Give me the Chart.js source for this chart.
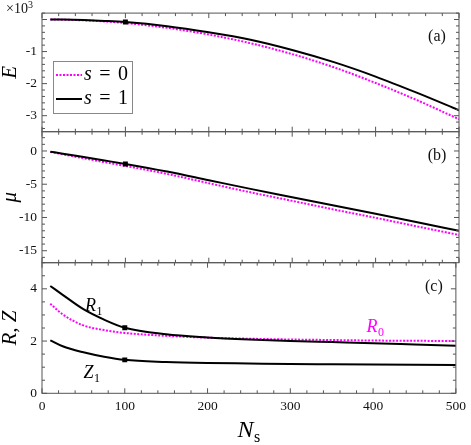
<!DOCTYPE html>
<html lang="en">
<head>
    <meta charset="UTF-8">
    <title>E, mu and R, Z against Ns</title>
    <style>
        * {
            margin: 0;
            padding: 0;
            box-sizing: border-box;
        }

        body {
            background: #fff;
            width: 471px;
            height: 445px;
            overflow: hidden;
        }

        /* every panel gets a full-size canvas, layout padding puts its plot area in place */
        .panel {
            position: absolute;
            left: 0;
            top: 0;
            width: 471px;
            height: 445px;
        }
    </style>
</head>
<body>
    <div class="panel"><canvas id="chart-a"></canvas></div>
    <div class="panel"><canvas id="chart-b"></canvas></div>
    <div class="panel"><canvas id="chart-c"></canvas></div>

    <script src="https://cdn.jsdelivr.net/npm/chart.js"></script>
    <script>
        // Data
        const ns = [10, 25, 50, 75, 100, 150, 200, 250, 300, 350, 400, 450, 500];

        // (a) energy, units of 10^3
        const energyS0 = [0.0, -0.005, -0.026, -0.06, -0.11, -0.26, -0.47, -0.74, -1.08, -1.49, -1.98, -2.52, -3.11];
        const energyS1 = [0.0, -0.003, -0.018, -0.044, -0.08, -0.21, -0.40, -0.63, -0.95, -1.33, -1.78, -2.29, -2.83];

        // (b) chemical potential
        const muS0 = [-0.15, -0.5, -1.1, -1.68, -2.25, -3.45, -4.85, -6.22, -7.5, -8.8, -10.05, -11.35, -12.63];
        const muS1 = [-0.1, -0.4, -0.92, -1.43, -1.95, -3.1, -4.4, -5.7, -6.95, -8.2, -9.45, -10.72, -12.0];

        // (c) sizes
        const radiusR0 = [3.43, 3.02, 2.6, 2.42, 2.31, 2.2, 2.13, 2.09, 2.06, 2.04, 2.02, 2.01, 2.0];
        const radiusR1 = [4.11, 3.77, 3.22, 2.82, 2.51, 2.26, 2.14, 2.06, 2.0, 1.96, 1.92, 1.87, 1.82];
        const heightZ1 = [2.03, 1.8, 1.57, 1.4, 1.28, 1.2, 1.16, 1.14, 1.12, 1.11, 1.1, 1.09, 1.08];

        // the square marker sits on the s = 1 curves at this N
        const markerN = 100;

        // tick labels
        const xTicks = [0, 100, 200, 300, 400, 500];
        const energyTicks = [-3, -2, -1];
        const muTicks = [-15, -10, -5, 0];
        const sizeTicks = [0, 2, 4];

        const FONT = "'Liberation Serif', 'DejaVu Serif', serif";
        const AXIS_COLOR = '#555';
        const MAGENTA = '#ff00ff';

        function points(ys) {
            return ns.map((n, i) => ({ x: n, y: ys[i] }));
        }

        function markerAt(ys) {
            const i = ns.indexOf(markerN);
            return { x: ns[i], y: ys[i] };
        }

        function dottedLine(ys) {
            return {
                data: points(ys),
                borderColor: MAGENTA,
                borderWidth: 2,
                borderDash: [2, 1.5],
                pointRadius: 0,
                cubicInterpolationMode: 'monotone',
                order: 3
            };
        }

        function solidLine(ys) {
            return {
                data: points(ys),
                borderColor: '#000',
                borderWidth: 2,
                pointRadius: 0,
                cubicInterpolationMode: 'monotone',
                order: 2
            };
        }

        function squares(list) {
            return {
                type: 'scatter',
                data: list.map(markerAt),
                pointStyle: 'rect',
                pointRadius: 3.5,
                backgroundColor: '#000',
                borderColor: '#000',
                borderWidth: 0,
                order: 1
            };
        }

        function line(ctx, x1, y1, x2, y2) {
            ctx.beginPath();
            ctx.moveTo(x1, y1);
            ctx.lineTo(x2, y2);
            ctx.stroke();
        }

        // text with a subscript, baseline at (x, y)
        function subText(ctx, main, sub, x, y, size, color) {
            ctx.fillStyle = color;
            ctx.textAlign = 'left';
            ctx.textBaseline = 'alphabetic';
            ctx.font = 'italic ' + size + 'px ' + FONT;
            ctx.fillText(main, x, y);
            const w = ctx.measureText(main).width;
            ctx.font = Math.round(size * 0.68) + 'px ' + FONT;
            ctx.fillText(sub, x + w + 0.5, y + size * 0.22);
        }

        // frame, inward ticks on all four sides, panel letter
        function framePlugin(minorStep, majorStep, letter, extra) {
            return {
                id: 'frame',
                afterDraw(chart) {
                    const { ctx, chartArea: a, scales: { x, y } } = chart;
                    ctx.save();
                    ctx.strokeStyle = AXIS_COLOR;
                    ctx.lineWidth = 1;
                    ctx.strokeRect(a.left, a.top, a.right - a.left, a.bottom - a.top);

                    for (let v = x.min; v <= x.max; v += 20) {
                        const px = x.getPixelForValue(v);
                        const len = v % 100 === 0 ? 5 : 3;
                        line(ctx, px, a.bottom, px, a.bottom - len);
                        line(ctx, px, a.top, px, a.top + len);
                    }

                    const first = Math.ceil(y.min / minorStep - 1e-9);
                    for (let k = first; k * minorStep <= y.max + 1e-9; k++) {
                        const v = k * minorStep;
                        const r = v / majorStep;
                        const len = Math.abs(r - Math.round(r)) < 1e-6 ? 5 : 3;
                        const py = y.getPixelForValue(v);
                        line(ctx, a.left, py, a.left + len, py);
                        line(ctx, a.right, py, a.right - len, py);
                    }

                    ctx.fillStyle = '#111';
                    ctx.font = '16px ' + FONT;
                    ctx.textAlign = 'center';
                    ctx.textBaseline = 'middle';
                    ctx.fillText(letter, a.right - 22, a.top + 24);

                    if (extra) extra(chart);
                    ctx.restore();
                }
            };
        }

        function makeChart(id, cfg) {
            return new Chart(document.getElementById(id), {
                type: 'line',
                data: { datasets: cfg.datasets },
                options: {
                    responsive: true,
                    maintainAspectRatio: false,
                    animation: false,
                    layout: { padding: cfg.padding },
                    plugins: {
                        legend: { display: false },
                        tooltip: { enabled: false }
                    },
                    scales: {
                        x: {
                            type: 'linear',
                            min: 0,
                            max: 500,
                            display: cfg.showX,
                            grid: { display: false, drawTicks: false },
                            border: { display: false },
                            afterBuildTicks: (scale) => {
                                scale.ticks = xTicks.map(v => ({ value: v }));
                            },
                            afterFit: (scale) => {
                                if (cfg.showX) scale.height = 51.7;
                            },
                            ticks: {
                                padding: 5,
                                color: '#111',
                                font: { family: FONT, size: 13.5 }
                            }
                        },
                        y: {
                            min: cfg.yMin,
                            max: cfg.yMax,
                            grid: { display: false, drawTicks: false },
                            border: { display: false },
                            afterBuildTicks: (scale) => {
                                scale.ticks = cfg.yTicks.map(v => ({ value: v }));
                            },
                            afterFit: (scale) => {
                                scale.width = 42;
                            },
                            ticks: {
                                padding: 5,
                                color: '#111',
                                font: { family: FONT, size: 13.5 }
                            },
                            title: {
                                display: true,
                                text: cfg.yTitle,
                                color: '#000',
                                padding: 0,
                                font: { family: FONT, size: 21, style: 'italic', lineHeight: 1 }
                            }
                        }
                    }
                },
                plugins: [cfg.plugin]
            });
        }

        // (a) energy
        makeChart('chart-a', {
            datasets: [dottedLine(energyS0), solidLine(energyS1), squares([energyS1])],
            padding: { top: 0.5, right: 12, bottom: 313.3, left: 0 },
            showX: false,
            yMin: -3.5,
            yMax: 0.2,
            yTicks: energyTicks,
            yTitle: 'E',
            plugin: framePlugin(0.2, 1, '(a)', (chart) => {
                const { ctx } = chart;
                // exponent label above the axis
                ctx.fillStyle = '#111';
                ctx.textAlign = 'left';
                ctx.textBaseline = 'alphabetic';
                ctx.font = '14px ' + FONT;
                ctx.fillText('\u00d710', 6, 13);
                const w = ctx.measureText('\u00d710').width;
                ctx.font = '10px ' + FONT;
                ctx.fillText('3', 6 + w, 8);

                // legend box
                ctx.fillStyle = '#fff';
                ctx.fillRect(53.5, 61.5, 79, 52);
                ctx.strokeStyle = '#888';
                ctx.lineWidth = 1;
                ctx.strokeRect(53.5, 61.5, 79, 52);

                const rows = [
                    { y: 75, color: MAGENTA, dash: [2, 1.5], value: '0' },
                    { y: 99, color: '#000', dash: [], value: '1' }
                ];
                rows.forEach(r => {
                    ctx.strokeStyle = r.color;
                    ctx.lineWidth = 2;
                    ctx.setLineDash(r.dash);
                    line(ctx, 56, r.y, 82, r.y);
                    ctx.setLineDash([]);
                    ctx.fillStyle = '#000';
                    ctx.textBaseline = 'middle';
                    ctx.textAlign = 'left';
                    ctx.font = 'italic 20px ' + FONT;
                    ctx.fillText('s', 84, r.y);
                    ctx.font = '20px ' + FONT;
                    ctx.textAlign = 'center';
                    ctx.fillText('=', 105, r.y);
                    ctx.textAlign = 'left';
                    ctx.fillText(r.value, 118, r.y);
                });
            })
        });

        // (b) chemical potential
        makeChart('chart-b', {
            datasets: [dottedLine(muS0), solidLine(muS1), squares([muS1])],
            padding: { top: 131.7, right: 12, bottom: 182.3, left: 0 },
            showX: false,
            yMin: -16.8,
            yMax: 2.9,
            yTicks: muTicks,
            yTitle: '\u03bc',
            plugin: framePlugin(1, 5, '(b)')
        });

        // (c) sizes
        makeChart('chart-c', {
            datasets: [dottedLine(radiusR0), solidLine(radiusR1), solidLine(heightZ1), squares([radiusR1, heightZ1])],
            padding: { top: 262.7, right: 12, bottom: 0, left: 0 },
            showX: true,
            yMin: 0,
            yMax: 5,
            yTicks: sizeTicks,
            yTitle: 'R, Z',
            plugin: framePlugin(0.5, 2, '(c)', (chart) => {
                const { ctx, chartArea: a, scales: { x, y } } = chart;
                subText(ctx, 'R', '1', x.getPixelForValue(52), y.getPixelForValue(3.15), 18, '#000');
                subText(ctx, 'Z', '1', x.getPixelForValue(50), y.getPixelForValue(0.59), 18, '#000');
                subText(ctx, 'R', '0', x.getPixelForValue(392), y.getPixelForValue(2.35), 18, MAGENTA);

                // x axis title N_s
                ctx.font = 'italic 24px ' + FONT;
                const wN = ctx.measureText('N').width;
                const cx = (a.left + a.right) / 2;
                subText(ctx, 'N', 's', cx - (wN + 7) / 2, 437, 24, '#000');
            })
        });
    </script>
</body>
</html>
